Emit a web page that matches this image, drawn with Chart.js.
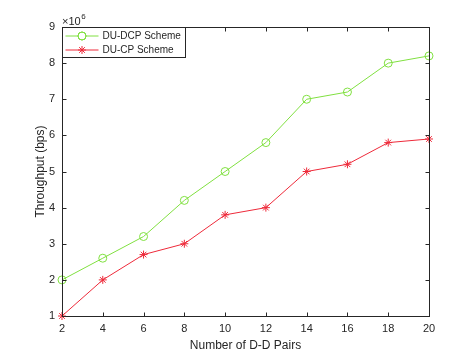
<!DOCTYPE html>
<html>
<head>
<meta charset="utf-8">
<script src="https://cdn.jsdelivr.net/npm/chart.js@4/dist/chart.umd.min.js"></script>
<style>
html,body{margin:0;padding:0;background:#fff;}
canvas{display:block;}
</style>
</head>
<body>
<canvas id="c" width="474" height="355"></canvas>
<script>
const pairs = [2, 4, 6, 8, 10, 12, 14, 16, 18, 20];
const duDcp = [2.0e6, 2.6e6, 3.2e6, 4.2e6, 5.0e6, 5.8e6, 7.0e6, 7.2e6, 8.0e6, 8.2e6];
const duCp  = [1.0e6, 2.0e6, 2.7e6, 3.0e6, 3.8e6, 4.0e6, 5.0e6, 5.2e6, 5.8e6, 5.9e6];
const seriesNames = ['DU-DCP Scheme', 'DU-CP Scheme'];
const xTitle = 'Number of D-D Pairs';
const yTitle = 'Throughput (bps)';
const yExponentBase = '\u00d710';
const yExponent = '6';

const GREEN = '#80e040';
const RED = '#ee2a3a';
const AX = '#262626';
const FONT = "'Liberation Sans', Arial, Helvetica, sans-serif";

Chart.defaults.font.family = FONT;
Chart.defaults.color = AX;

const boxPlugin = {
  id: 'matlabBox',
  afterDatasetsDraw(chart) {
    const ctx = chart.ctx;
    const {left, right, top, bottom} = chart.chartArea;
    const xs = chart.scales.x, ys = chart.scales.y;
    const L = Math.round(left) + 0.5, R = Math.round(right) + 0.5;
    const T = Math.round(top) + 0.5, B = Math.round(bottom) + 0.5;
    ctx.save();
    ctx.strokeStyle = AX;
    ctx.lineWidth = 1;
    ctx.strokeRect(L, T, R - L, B - T);
    const tl = 4;
    ctx.beginPath();
    xs.ticks.forEach((t, i) => {
      const px = Math.round(xs.getPixelForTick(i)) + 0.5;
      ctx.moveTo(px, B); ctx.lineTo(px, B - tl);
      ctx.moveTo(px, T); ctx.lineTo(px, T + tl);
    });
    ys.ticks.forEach((t, i) => {
      const py = Math.round(ys.getPixelForTick(i)) + 0.5;
      ctx.moveTo(L, py); ctx.lineTo(L + tl, py);
      ctx.moveTo(R, py); ctx.lineTo(R - tl, py);
    });
    ctx.stroke();

    // exponent label
    ctx.fillStyle = AX;
    ctx.textBaseline = 'alphabetic';
    ctx.textAlign = 'left';
    ctx.font = '11px ' + FONT;
    ctx.fillText(yExponentBase, L - 0.5, T - 3);
    const w = ctx.measureText(yExponentBase).width;
    ctx.font = '8px ' + FONT;
    ctx.fillText(yExponent, L - 0.5 + w + 0.5, T - 9);

    // legend
    const lx = L, ly = T, lw = 123, lh = 30;
    ctx.fillStyle = '#fff';
    ctx.fillRect(lx, ly, lw, lh);
    ctx.strokeStyle = AX;
    ctx.strokeRect(lx, ly, lw, lh);
    const rows = [ly + 8.5, ly + 22.5];
    chart.data.datasets.forEach((ds, i) => {
      const yy = rows[i];
      ctx.strokeStyle = ds.borderColor;
      ctx.lineWidth = 1;
      ctx.beginPath();
      ctx.moveTo(lx + 3, yy); ctx.lineTo(lx + 36, yy);
      ctx.stroke();
      Chart.helpers.drawPoint(ctx, {
        pointStyle: ds.pointStyle, radius: ds.pointRadius, rotation: 0, borderWidth: 1
      }, lx + 19.5, yy);
      if (ds.pointStyle === 'circle') {
        ctx.beginPath();
        ctx.arc(lx + 19.5, yy, ds.pointRadius, 0, Math.PI * 2);
        ctx.stroke();
      }
      ctx.fillStyle = AX;
      ctx.font = '10px ' + FONT;
      ctx.textBaseline = 'middle';
      ctx.fillText(ds.label, lx + 40, yy + 0.5);
    });
    ctx.restore();
  }
};

new Chart(document.getElementById('c'), {
  type: 'line',
  data: {
    datasets: [
      {
        label: seriesNames[0],
        data: pairs.map((p, i) => ({x: p, y: duDcp[i]})),
        borderColor: GREEN,
        backgroundColor: 'rgba(0,0,0,0)',
        borderWidth: 1,
        pointStyle: 'circle',
        pointRadius: 4,
        pointBorderWidth: 1,
        pointBorderColor: GREEN,
        pointBackgroundColor: 'rgba(0,0,0,0)',
        tension: 0,
        clip: false
      },
      {
        label: seriesNames[1],
        data: pairs.map((p, i) => ({x: p, y: duCp[i]})),
        borderColor: RED,
        backgroundColor: RED,
        borderWidth: 1,
        pointStyle: 'star',
        pointRadius: 4,
        pointBorderWidth: 1,
        pointBorderColor: RED,
        pointBackgroundColor: RED,
        tension: 0,
        clip: false
      }
    ]
  },
  options: {
    responsive: false,
    animation: false,
    devicePixelRatio: 1,
    layout: {padding: {top: 27, right: 45, left: 33, bottom: 0}},
    plugins: {legend: {display: false}, tooltip: {enabled: false}},
    scales: {
      x: {
        type: 'linear',
        min: 2, max: 20,
        afterFit: s => { s.height = 39; },
        grid: {display: false, drawTicks: false},
        border: {display: false},
        ticks: {stepSize: 2, padding: 6, font: {size: 11}, color: AX, maxRotation: 0},
        title: {display: true, text: xTitle, font: {size: 12}, color: AX, padding: {top: 3, bottom: 2}}
      },
      y: {
        type: 'linear',
        min: 1e6, max: 9e6,
        afterFit: s => { s.width = 29; },
        grid: {display: false, drawTicks: false},
        border: {display: false},
        ticks: {stepSize: 1e6, padding: 7, font: {size: 11}, color: AX,
          callback: v => String(v / 1e6)},
        title: {display: true, text: yTitle, font: {size: 12}, color: AX, padding: {top: 0, bottom: 0}}
      }
    }
  },
  plugins: [boxPlugin]
});
</script>
</body>
</html>
